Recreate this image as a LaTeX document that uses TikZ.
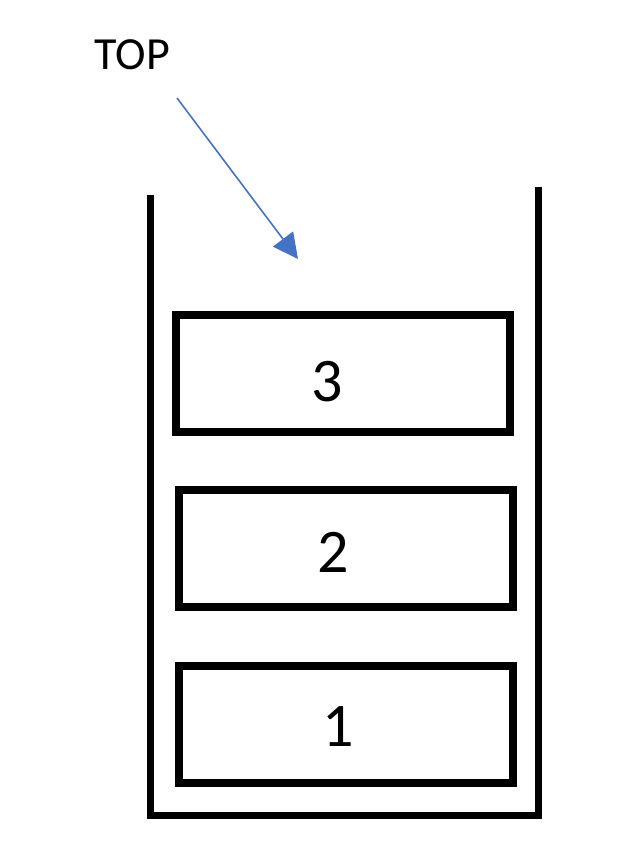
\documentclass[tikz,border=0pt]{standalone}
\usepackage{fontspec}
\setmainfont{Carlito}
\usetikzlibrary{arrows.meta,positioning}
\definecolor{pointerblue}{HTML}{4472C4}

\begin{document}
\begin{tikzpicture}[>=Latex, x=1pt, y=-1pt,
		slot/.style={draw, line width=8pt, minimum width=334pt, minimum height=117pt, inner sep=0pt},
		digit/.style={font=\fontsize{62}{62}\selectfont, inner sep=0pt},
		pointer/.style={draw=pointerblue, line width=1.6pt}]
		
		\useasboundingbox (0,0) rectangle (629,851);
		
		% the stack container (open at the top)
		\coordinate (LT) at (150.5,195);
		\coordinate (LB) at (150.5,815);
		\coordinate (RB) at (538,815);
		\coordinate (RT) at (538,187);
		\draw[line width=7pt, line join=miter] (LT) -- (LB) -- (RB) -- (RT);
		
		% the three elements, bottom one first
		\node[slot] (s1) at (345.5,724) {};
		\node[slot] (s2) at (345.5,548.5) {};
		\node[slot] (s3) at (343,373.5) {};
		\node[digit] (n1) at (338,727) {1};
		\node[digit] (n2) at (333,552) {2};
		\node[digit] (n3) at (327,382) {3};
		
		% top pointer
		\node[font=\fontsize{46}{46}\selectfont, inner sep=0pt] (top) at (132.5,55) {TOP};
		\coordinate (tail) at (177,98);
		\coordinate (tip) at (298,259);
		\draw[pointer, -{Triangle[length=25pt,width=25pt]}] (tail) -- (tip);
		
	\end{tikzpicture}
\end{document}
